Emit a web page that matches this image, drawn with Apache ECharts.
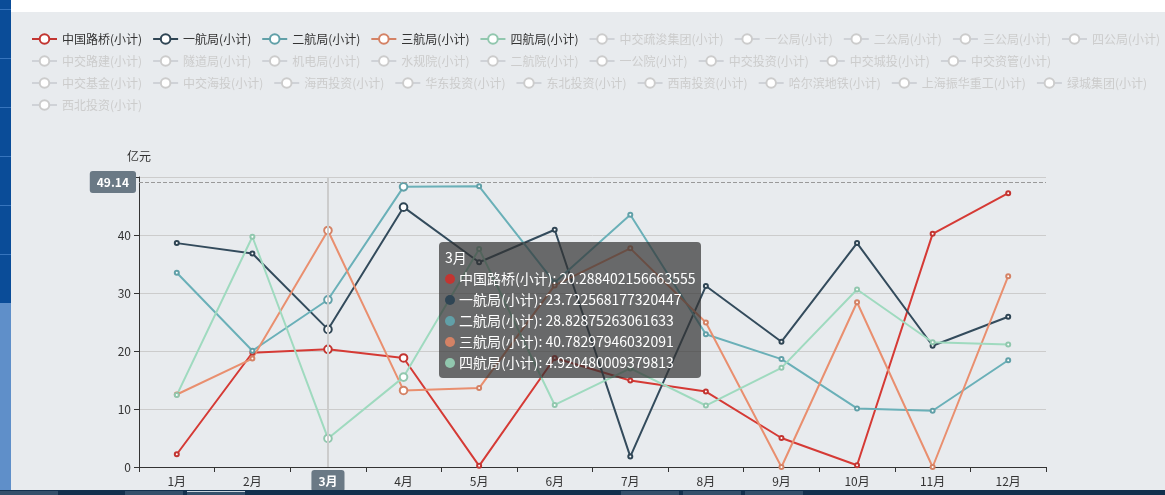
<!DOCTYPE html>
<html>
<head>
<meta charset="utf-8">
<script src="https://cdn.jsdelivr.net/npm/echarts@6/dist/echarts.min.js"></script>
<style>
  html, body { margin: 0; padding: 0; width: 1165px; height: 495px; overflow: hidden; background: #e8ebee; }
  #chart { position: absolute; left: 0; top: 0; width: 1165px; height: 495px; }
  .deco { position: absolute; z-index: 10; pointer-events: none; }
</style>
</head>
<body>
<div id="chart"></div>
<div class="deco" style="left:11px;top:0;width:1154px;height:12px;background:#ffffff;"></div>
<div class="deco" style="left:0;top:0;width:11px;height:303px;background:#0a4c98;"></div>
<div class="deco" style="left:0;top:9px;width:11px;height:1px;background:#3674bd;"></div>
<div class="deco" style="left:0;top:58px;width:11px;height:1px;background:#3674bd;"></div>
<div class="deco" style="left:0;top:107px;width:11px;height:1px;background:#3674bd;"></div>
<div class="deco" style="left:0;top:156px;width:11px;height:1px;background:#3674bd;"></div>
<div class="deco" style="left:0;top:205px;width:11px;height:1px;background:#3674bd;"></div>
<div class="deco" style="left:0;top:254px;width:11px;height:1px;background:#3674bd;"></div>
<div class="deco" style="left:0;top:303px;width:11px;height:192px;background:#5f8fc9;"></div>
<div class="deco" style="left:0;top:490px;width:1165px;height:5px;background:#12304d;"></div>
<div class="deco" style="left:0;top:491px;width:58px;height:4px;background:#34506b;"></div>
<div class="deco" style="left:125px;top:491px;width:58px;height:4px;background:#34506b;"></div>
<div class="deco" style="left:187px;top:491px;width:58px;height:4px;background:#34506b;border-top:1px solid #c8d2dc;"></div>
<div class="deco" style="left:621px;top:491px;width:58px;height:4px;background:#34506b;"></div>
<div class="deco" style="left:683px;top:491px;width:58px;height:4px;background:#34506b;"></div>
<div class="deco" style="left:745px;top:491px;width:58px;height:4px;background:#34506b;"></div>
<script>
// ---- data ----
const months = ['1月','2月','3月','4月','5月','6月','7月','8月','9月','10月','11月','12月'];
const seriesNames = ['中国路桥(小计)','一航局(小计)','二航局(小计)','三航局(小计)','四航局(小计)',
  '中交疏浚集团(小计)','一公局(小计)','二公局(小计)','三公局(小计)','四公局(小计)',
  '中交路建(小计)','隧道局(小计)','机电局(小计)','水规院(小计)','二航院(小计)','一公院(小计)',
  '中交投资(小计)','中交城投(小计)','中交资管(小计)','中交基金(小计)','中交海投(小计)',
  '海西投资(小计)','华东投资(小计)','东北投资(小计)','西南投资(小计)','哈尔滨地铁(小计)',
  '上海振华重工(小计)','绿城集团(小计)','西北投资(小计)'];
const zgljData = [2.2, 19.7, 20.288402156663555, 18.8, 0.2, 18.8, 14.9, 13.0, 5.0, 0.3, 40.2, 47.2];
const yhjData  = [38.6, 36.8, 23.722568177320447, 44.8, 35.3, 40.9, 1.8, 31.2, 21.6, 38.6, 20.9, 25.9];
const ehjData  = [33.5, 20.05, 28.82875263061633, 48.3, 48.4, 31.8, 43.5, 22.9, 18.6, 10.1, 9.7, 18.4];
const shjData  = [12.5, 18.7, 40.78297946032091, 13.2, 13.6, 31.3, 37.7, 24.9, 0, 28.4, 0, 32.9];
const sihjData = [12.4, 39.7, 4.920480009379813, 15.5, 37.6, 10.7, 17.0, 10.6, 17.1, 30.6, 21.5, 21.1];
const visibleData = [zgljData, yhjData, ehjData, shjData, sihjData];
const yTicks = { min: 0, max: 50, interval: 10 };
const yName = '亿元';

// ---- chart ----
const palette = ['#c23531','#2f4554','#61a0a8','#d48265','#91c7ae','#749f83','#ca8622','#bda29a','#6e7074','#546570','#c4ccd3'];
const selected = {};
seriesNames.forEach((n, i) => { selected[n] = i < 5; });

const series = seriesNames.map((n, i) => ({
  name: n,
  type: 'line',
  data: i < visibleData.length ? visibleData[i] : [],
  symbol: 'emptyCircle',
  symbolSize: 4,
  showSymbol: true,
  showAllSymbol: true,
  lineStyle: { width: 2 },
  emphasis: { scale: 1.9, lineStyle: { width: 2 } }
}));

const chart = echarts.init(document.getElementById('chart'), null, { renderer: 'canvas' });
chart.setOption({
  animation: false,
  color: palette,
  textStyle: { fontFamily: "'Microsoft YaHei','Noto Sans CJK SC',sans-serif" },
  legend: {
    left: 31, top: 33, right: 0, padding: 0,
    itemWidth: 25, itemHeight: 12, itemGap: 10,
    textStyle: { fontSize: 12, color: '#333' },
    inactiveColor: '#ccc',
    selected: selected,
    data: seriesNames
  },
  grid: { left: 139, right: 119, top: 177, bottom: 28 },
  tooltip: {
    trigger: 'axis',
    transitionDuration: 0,
    position: [439, 242],
    backgroundColor: 'rgba(50,50,50,0.7)',
    borderWidth: 0,
    borderRadius: 4,
    padding: [5, 6],
    textStyle: { color: '#fff', fontSize: 14 },
    extraCssText: 'box-shadow:none;line-height:21px;',
    axisPointer: {
      type: 'cross',
      lineStyle: { color: '#ccc', width: 2, type: 'solid' },
      crossStyle: { color: '#999', width: 1, type: 'dashed' },
      label: { backgroundColor: '#6a7985', color: '#fff', fontWeight: 'bold', fontSize: 12 }
    },
    formatter: function (params) {
      let s = params[0].axisValueLabel;
      params.forEach(p => { s += '<br/>' + p.marker + p.seriesName + ': ' + p.value; });
      return s;
    }
  },
  xAxis: {
    type: 'category',
    data: months,
    boundaryGap: true,
    axisLine: { lineStyle: { color: '#333' } },
    axisTick: { show: true, alignWithLabel: false, lineStyle: { color: '#333' } },
    axisLabel: { color: '#333', fontSize: 12 },
    splitLine: { show: false }
  },
  yAxis: {
    type: 'value',
    name: yName,
    min: yTicks.min, max: yTicks.max, interval: yTicks.interval,
    nameTextStyle: { color: '#333', fontSize: 12 },
    axisLine: { show: true, lineStyle: { color: '#333' } },
    axisTick: { show: true, lineStyle: { color: '#333' } },
    axisLabel: { color: '#333', fontSize: 12 },
    splitLine: { show: true, lineStyle: { color: '#ccc' } }
  },
  series: series
});

chart.dispatchAction({ type: 'showTip', x: 340, y: 182 });
chart.dispatchAction({ type: 'highlight', seriesIndex: [0, 1, 2, 3, 4], dataIndex: 3 });
</script>
</body>
</html>
